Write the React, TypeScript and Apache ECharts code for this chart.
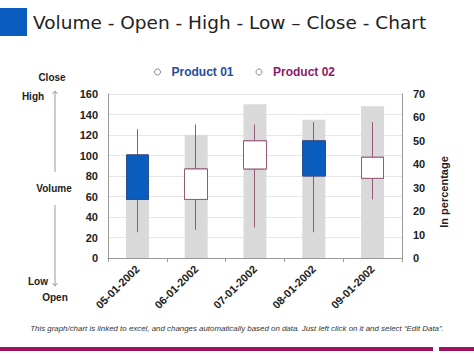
import React, { useEffect, useRef } from "react";
import * as echarts from "echarts";

// Trading dates on the category axis
const dates = ["05-01-2002", "06-01-2002", "07-01-2002", "08-01-2002", "09-01-2002"];
// Volume (left axis)
const volume = [100, 120, 150, 135, 148];
// Price band values in percentage (right axis)
const openVals = [44, 25, 38, 50, 34];
const closeVals = [25, 38, 50, 35, 43];
const lowVals = [11, 12, 13, 11, 25];
const highVals = [55, 57, 57, 58, 58];
// Legend entries
const legendNames = ["Product 01", "Product 02"];

const BLUE = "#0A5CBE";
const MAUVE = "#94587A";
const MAGENTA = "#9C1162";
const SANS = "'Liberation Sans', Arial, sans-serif";

export default function App() {
  const ref = useRef<HTMLDivElement>(null);

  useEffect(() => {
    if (!ref.current) return;
    const chart = echarts.init(ref.current, null, { renderer: "svg" });

    const wickData = dates.map((_, i) => [openVals[i], closeVals[i], lowVals[i], highVals[i]]);
    const bodyData = dates.map((_, i) => [
      openVals[i],
      closeVals[i],
      Math.min(openVals[i], closeVals[i]),
      Math.max(openVals[i], closeVals[i]),
    ]);

    chart.setOption({
      animation: false,
      backgroundColor: "#fff",
      grid: { left: 108, right: 72, top: 94, bottom: 97 },
      legend: {
        left: 149,
        top: 61,
        selectedMode: false,
        itemWidth: 6,
        itemHeight: 6,
        itemGap: 22,
        data: [
          {
            name: legendNames[0],
            icon: "circle",
            itemStyle: { color: "#fff", borderColor: "#8a8a8a", borderWidth: 1 },
            textStyle: { color: "#1F4E9A" },
          },
          {
            name: legendNames[1],
            icon: "circle",
            itemStyle: { color: "#fff", borderColor: "#8a8a8a", borderWidth: 1 },
            textStyle: { color: "#8B1A6B" },
          },
        ],
        textStyle: {
          fontFamily: SANS,
          fontWeight: "bold",
          fontSize: 12,
          padding: [0, 0, 0, 6],
        },
      },
      xAxis: {
        type: "category",
        data: dates,
        boundaryGap: true,
        axisLine: { lineStyle: { color: "#9a9a9a" } },
        axisTick: { show: true, length: 4, lineStyle: { color: "#9a9a9a" } },
        axisLabel: {
          rotate: 45,
          margin: 9,
          color: "#222",
          fontFamily: SANS,
          fontWeight: "bold",
          fontSize: 11,
        },
      },
      yAxis: [
        {
          type: "value",
          min: 0,
          max: 160,
          interval: 20,
          axisLine: { show: true, lineStyle: { color: "#9a9a9a" } },
          axisTick: { show: false },
          splitLine: { lineStyle: { color: "#e6e6e6" } },
          axisLabel: {
            margin: 10,
            color: "#222",
            fontFamily: SANS,
            fontWeight: "bold",
            fontSize: 11,
          },
        },
        {
          type: "value",
          min: 0,
          max: 70,
          interval: 10,
          position: "right",
          axisLine: { show: true, lineStyle: { color: "#9a9a9a" } },
          axisTick: { show: false },
          splitLine: { show: false },
          axisLabel: {
            margin: 11,
            color: "#222",
            fontFamily: SANS,
            fontWeight: "bold",
            fontSize: 11,
          },
        },
      ],
      series: [
        {
          name: legendNames[1],
          type: "bar",
          yAxisIndex: 0,
          barWidth: 23,
          data: volume,
          itemStyle: { color: "#d9d9d9" },
          z: 1,
        },
        {
          name: "wick",
          type: "candlestick",
          yAxisIndex: 1,
          barWidth: 23,
          data: wickData,
          itemStyle: {
            color: MAUVE,
            color0: MAUVE,
            borderColor: MAUVE,
            borderColor0: MAUVE,
            borderWidth: 1,
          },
          z: 2,
        },
        {
          name: legendNames[0],
          type: "candlestick",
          yAxisIndex: 1,
          barWidth: 23,
          data: bodyData,
          itemStyle: {
            color: "#fff",
            color0: BLUE,
            borderColor: MAUVE,
            borderColor0: "#2a4f8a",
            borderWidth: 1,
          },
          z: 3,
        },
      ],
      graphic: [
        { type: "rect", shape: { x: 0, y: 8, width: 27, height: 28 }, style: { fill: BLUE } },
        {
          type: "text",
          x: 33,
          y: 22,
          style: {
            text: "Volume - Open - High - Low \u2013 Close - Chart",
            fontFamily: "'DejaVu Sans', sans-serif",
            fontSize: 18.5,
            fill: "#222",
            verticalAlign: "middle",
          },
        },
        // side annotations
        { type: "text", x: 52, y: 77, style: { text: "Close", fontFamily: SANS, fontWeight: "bold", fontSize: 10, fill: "#222", align: "center", verticalAlign: "middle" } },
        { type: "text", x: 33, y: 96, style: { text: "High", fontFamily: SANS, fontWeight: "bold", fontSize: 10, fill: "#222", align: "center", verticalAlign: "middle" } },
        { type: "text", x: 54, y: 188, style: { text: "Volume", fontFamily: SANS, fontWeight: "bold", fontSize: 10, fill: "#222", align: "center", verticalAlign: "middle" } },
        { type: "text", x: 38, y: 281, style: { text: "Low", fontFamily: SANS, fontWeight: "bold", fontSize: 10, fill: "#222", align: "center", verticalAlign: "middle" } },
        { type: "text", x: 55, y: 297, style: { text: "Open", fontFamily: SANS, fontWeight: "bold", fontSize: 10, fill: "#222", align: "center", verticalAlign: "middle" } },
        { type: "line", shape: { x1: 55, y1: 91, x2: 55, y2: 172 }, style: { stroke: "#999", lineWidth: 1 } },
        { type: "polyline", shape: { points: [[52.5, 94], [55, 91], [57.5, 94]] }, style: { stroke: "#999", lineWidth: 1, fill: "none" } },
        { type: "line", shape: { x1: 55, y1: 205, x2: 55, y2: 286 }, style: { stroke: "#999", lineWidth: 1 } },
        { type: "polyline", shape: { points: [[52.5, 283], [55, 286], [57.5, 283]] }, style: { stroke: "#999", lineWidth: 1, fill: "none" } },
        // right axis title
        {
          type: "text",
          x: 444,
          y: 192,
          rotation: Math.PI / 2,
          style: { text: "In percentage", fontFamily: SANS, fontWeight: "bold", fontSize: 11, fill: "#222", align: "center", verticalAlign: "middle" },
        },
        // footer note
        {
          type: "text",
          x: 237,
          y: 328,
          style: {
            text: "This graph/chart is linked to excel, and changes automatically based on data. Just left click on it and select \u201cEdit Data\u201d.",
            fontFamily: SANS,
            fontStyle: "italic",
            fontSize: 7.9,
            fill: "#333",
            align: "center",
            verticalAlign: "middle",
          },
        },
        // bottom band
        { type: "rect", shape: { x: 0, y: 347, width: 433, height: 4 }, style: { fill: MAGENTA } },
        { type: "rect", shape: { x: 439, y: 347, width: 35, height: 4 }, style: { fill: MAGENTA } },
      ],
    });

    return () => chart.dispose();
  }, []);

  return (
    <div
      ref={ref}
      style={{ position: "fixed", left: 0, top: 0, width: 474, height: 355 }}
    />
  );
}
